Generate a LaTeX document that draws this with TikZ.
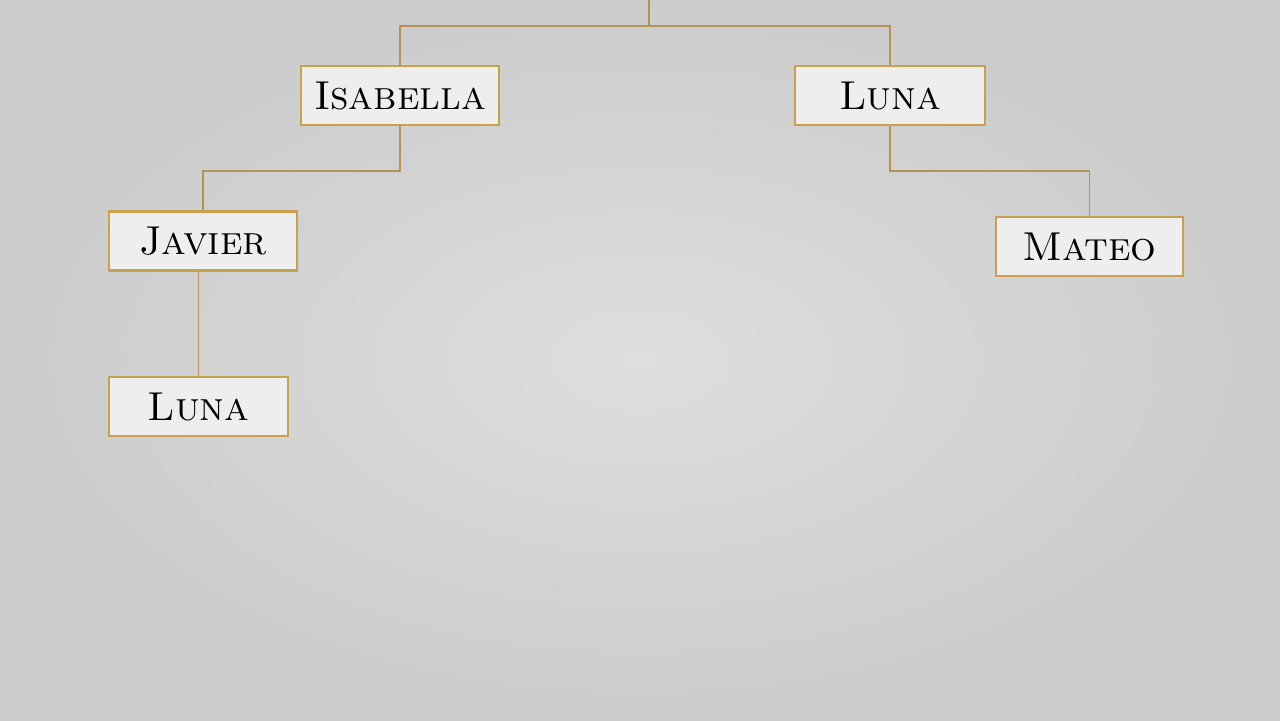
\documentclass[tikz,border=0pt]{standalone}
\usetikzlibrary{calc}
\definecolor{bgedge}{RGB}{204,204,204}
\definecolor{bgmid}{RGB}{222,222,222}
\definecolor{linkgold}{RGB}{184,146,84}
\definecolor{boxgold}{RGB}{201,160,78}
\definecolor{boxfill}{RGB}{238,238,238}
\begin{document}
\begin{tikzpicture}[x=0.02cm, y=-0.02cm,
    person/.style={draw=boxgold, line width=1.4pt, fill=boxfill, minimum height=1.18cm,
      inner sep=0pt, font=\fontsize{23}{26}\selectfont\scshape},
    link/.style={draw=linkgold, line width=1.1pt}]
      % background
      \shade[inner color=bgmid, outer color=bgedge] (0,0) rectangle (1280,720);
      \useasboundingbox (0,0) rectangle (1280,720);

      \coordinate (top) at (649,0);
      \coordinate (fork) at (649,26);

      \node[person, minimum width=3.96cm] (isa) at (400,95.5) {Isabella};
      \node[person, minimum width=3.8cm] (luna1) at (890,95.5) {Luna};
      \node[person, minimum width=3.76cm] (jav) at (203,241) {Javier};
      \node[person, minimum width=3.74cm] (mat) at (1089.5,246.5) {Mateo};
      \node[person, minimum width=3.58cm] (luna2) at (198.5,406.5) {Luna};

      \draw[link] (top) -- (fork);
      \draw[link] (isa.north) |- (fork) -| (luna1.north);
      \draw[link] (isa.south) -- ++(0,45) -| (jav.north);
      \draw[link] (luna1.south) -- ++(0,45) -| (mat.north);
      \draw[link] (jav.south -| luna2.north) -- (luna2.north);
    \end{tikzpicture}
\end{document}
